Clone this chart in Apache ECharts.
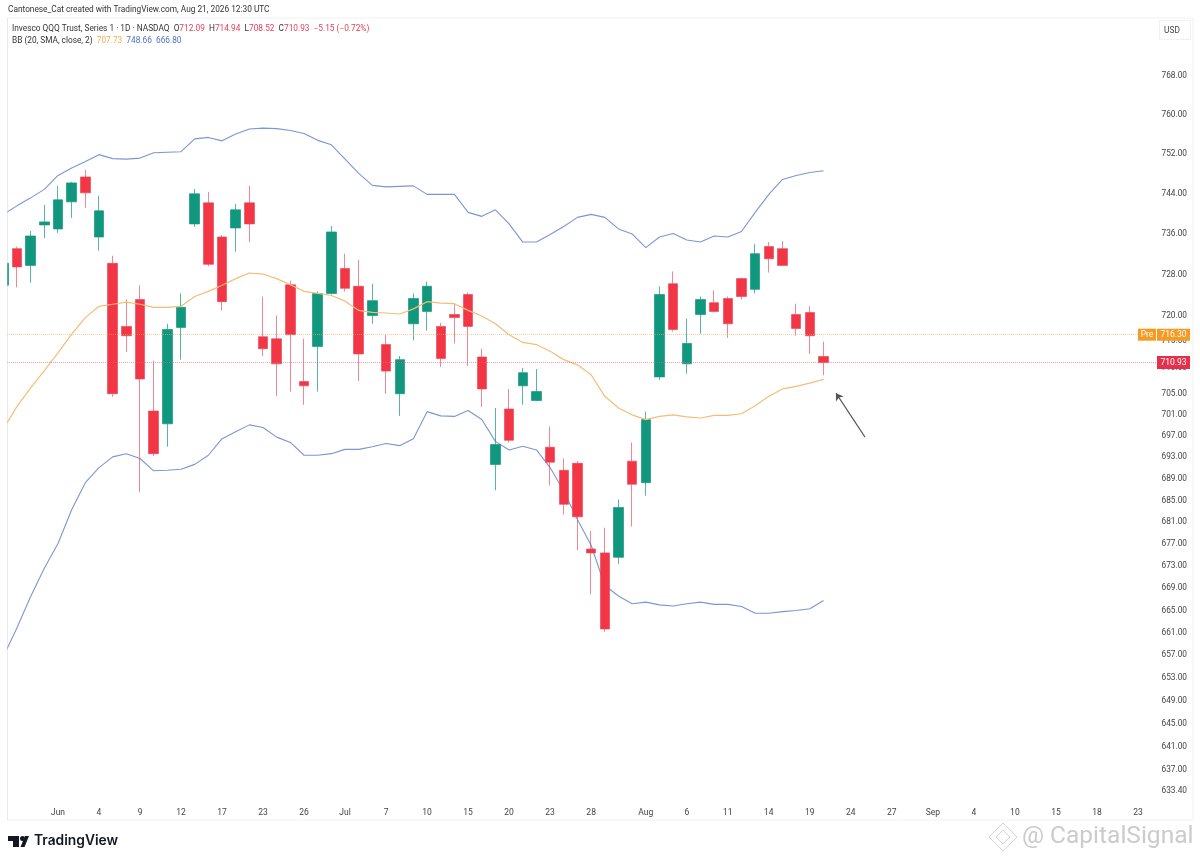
<!DOCTYPE html>
<html><head><meta charset="utf-8">
<style>html,body{margin:0;padding:0;background:#fff}#c{width:1200px;height:862px}</style>
<script src="https://cdn.jsdelivr.net/npm/echarts@6/dist/echarts.min.js"></script>
</head><body><div id="c"></div>
<script>
// session calendar (trading days, including future sessions on the axis)
const mayDays=[26,27,28,29];
const junDays=[1,2,3,4,5,8,9,10,11,12,15,16,17,18,22,23,24,25,26,29,30];
const julDays=[1,2,6,7,8,9,10,13,14,15,16,17,20,21,22,23,24,27,28,29,30,31];
const augDays=[3,4,5,6,7,10,11,12,13,14,17,18,19,20,21,24,25,26,27,28,31];
const sepDays=[1,2,3,4,8,9,10,11,14,15,16,17,18,21,22,23,24,25];
const tickDates=['06-01','06-04','06-09','06-12','06-17','06-23','06-26','07-01','07-07','07-10','07-15','07-20','07-23','07-28','08-03','08-06','08-11','08-14','08-19','08-24','08-27','09-01','09-04','09-10','09-15','09-18','09-23'];
const tickLabels=['Jun','4','9','12','17','23','26','Jul','7','10','15','20','23','28','Aug','6','11','14','19','24','27','Sep','4','10','15','18','23'];
const priceTicks=[768,760,752,744,736,728,720,715,710,705,701,697,693,689,685,681,677,673,669,665,661,657,653,649,645,641,637,633.4];
// [open, close, low, high]
const ohlc=[
[725.9,730.2,725.5,730.6],[733.1,729.5,725.5,733.5],[729.8,735.6,726.4,736.6],[737.8,738.4,735.2,741.8],
[737.0,742.8,736.2,745.6],[742.4,746.2,739.2,746.4],[747.4,744.2,741.2,748.8],[735.4,740.6,732.7,743.6],
[730.2,705.0,704.4,731.7],[717.9,716.1,713.0,723.1],[723.1,707.8,686.5,725.9],[701.7,693.7,693.2,711.3],
[699.3,717.3,695.0,718.4],[717.7,721.6,711.5,724.3],[738.0,744.0,737.4,745.0],[742.2,730.0,729.6,744.4],
[735.4,722.7,721.0,735.8],[737.2,740.8,732.5,742.0],[742.2,738.0,734.4,745.6],[715.9,713.6,712.2,723.7],
[715.5,710.7,704.6,720.0],[726.0,716.3,705.4,726.8],[707.3,706.5,702.9,715.5],[714.0,724.3,705.4,724.7],
[724.3,736.4,724.1,737.6],[729.2,725.3,724.7,732.1],[725.7,712.6,707.4,730.9],[720.0,722.9,718.4,726.2],
[714.4,709.3,705.0,716.3],[705.0,711.5,700.8,712.2],[718.4,723.3,715.2,724.3],[720.8,725.7,717.1,726.6],
[717.9,711.7,710.1,718.6],[720.2,719.6,714.6,722.3],[724.1,717.9,710.3,724.5],[712.0,705.9,702.5,713.6],
[691.7,695.4,686.9,702.3],[702.1,696.2,695.8,705.9],[706.5,709.0,702.9,709.9],[703.7,705.4,703.6,709.7],
[694.9,692.1,687.8,698.8],[690.6,684.3,682.4,692.8],[691.9,682.0,675.9,692.3],[676.1,675.4,667.9,679.4],
[675.4,661.7,661.2,680.0],[674.6,683.7,673.4,685.2],[692.3,688.0,680.2,695.8],[688.3,700.1,685.9,701.6],
[708.2,724.1,707.6,725.7],[726.2,717.3,716.9,728.6],[710.7,714.6,708.8,719.4],[720.2,723.1,716.5,723.7],
[722.5,720.8,720.6,724.9],[723.3,718.4,715.7,723.7],[727.2,723.7,723.1,727.4],[725.1,732.1,724.3,734.0],
[733.5,731.1,728.4,734.4],[733.1,729.8,729.6,734.6],[720.2,717.5,716.1,722.3],[720.6,716.1,712.6,721.8],
[712.09,710.93,708.52,714.94]];
const bbUpper=[739.9,741.6,743.2,744.9,747.7,749.2,750.5,751.9,751.1,751.0,751.2,752.3,752.4,752.5,755.1,755.4,754.7,756.1,757.1,757.3,757.2,756.8,756.2,754.8,753.9,751.0,748.1,745.7,745.4,745.5,745.6,743.9,743.9,743.9,740.3,739.5,740.8,738.0,734.4,734.4,735.9,737.5,739.3,739.9,739.3,737.0,736.0,733.3,735.4,736.1,734.8,734.4,735.6,735.4,736.5,740.3,743.9,746.9,747.7,748.3,748.66];
const bbBasis=[698.3,702.6,706.1,709.4,712.8,716.4,719.6,721.8,722.2,722.6,722.2,721.6,721.6,721.8,723.7,724.7,725.9,727.2,728.3,728.1,727.2,726.0,724.7,724.3,723.9,722.8,721.0,720.6,720.5,720.3,721.3,722.7,722.4,722.3,721.0,719.9,718.4,716.3,714.8,714.4,713.1,711.5,710.5,708.6,704.5,702.3,701.0,700.1,700.7,701.0,700.6,700.4,700.9,700.9,701.2,702.7,704.5,705.9,706.4,707.0,707.73];
const bbLower=[656.8,661.9,667.5,672.6,677.1,683.3,688.3,691.1,693.1,693.7,692.8,690.5,690.6,690.8,691.7,693.4,696.5,697.8,699.1,698.6,696.8,695.8,693.4,693.4,693.7,694.5,694.5,695.0,695.6,695.2,696.5,701.6,700.8,700.7,701.8,700.1,696.0,694.4,695.1,694.4,691.1,686.7,681.5,676.8,669.5,667.6,666.2,666.5,666.0,665.8,666.2,666.5,666.1,666.1,665.7,664.5,664.5,664.8,665.0,665.3,666.80];
const prePrice=716.30, lastPrice=710.93;

const pad=d=>String(d).padStart(2,'0');
const dates=[[5,mayDays],[6,junDays],[7,julDays],[8,augDays],[9,sepDays]].flatMap(([m,ds])=>ds.map(d=>pad(m)+'-'+pad(d)));
const tickPos=tickDates.map(d=>dates.indexOf(d));
const withX=a=>a.map((v,i)=>[i,v]);
const RED='#f23645',GREEN='#12977f',BLUE='#7a97d3',ORANGE='#f4bd76',FONT='Roboto,"Noto Sans",sans-serif',TXT='8.3px '+FONT;
const LX=7,RX=1193,barStep=13.67,jun1Px=58,jun1=dates.indexOf('06-01');
const xAt=px=>jun1+(px-jun1Px)/barStep;

const chart=echarts.init(document.getElementById('c'),null,{renderer:'canvas'});
const poly=(pts,fill,stroke)=>({type:'polygon',silent:true,z:60,shape:{points:pts},style:{fill:fill||'none',stroke:stroke||null,lineWidth:1}});
const label=(x,y,text,extra)=>({type:'text',silent:true,z:60,style:Object.assign({x,y,text,verticalAlign:'middle',font:TXT,fill:'#333'},extra||{})});
chart.setOption({
 animation:false,backgroundColor:'#fff',
 grid:{left:LX,top:18,width:RX-LX,height:802,show:true,borderColor:'#f1f1f3',borderWidth:1,backgroundColor:'#fff'},
 xAxis:{type:'value',min:xAt(LX),max:xAt(RX),splitLine:{show:false},axisLine:{show:false},
  axisTick:{show:false},
  axisLabel:{customValues:tickPos,inside:true,margin:3,fontFamily:FONT,fontSize:8.5,color:'#444',showMinLabel:true,showMaxLabel:true,
   formatter:v=>tickLabels[tickPos.indexOf(v)]}},
 yAxis:{type:'log',min:628.5,max:780.1,position:'right',splitLine:{show:false},axisLine:{show:false},axisTick:{show:false},minorTick:{show:false},
  axisLabel:{customValues:priceTicks,inside:true,margin:6,fontFamily:FONT,fontSize:8.3,color:'#444',align:'right',padding:[4,0,0,0],
   formatter:v=>(+v).toFixed(2)}},
 series:[
  {type:'line',name:'upper',data:withX(bbUpper),showSymbol:false,symbol:'none',lineStyle:{color:BLUE,width:1.1},z:2},
  {type:'line',name:'lower',data:withX(bbLower),showSymbol:false,symbol:'none',lineStyle:{color:BLUE,width:1.1},z:2},
  {type:'candlestick',name:'QQQ',data:ohlc.map((r,i)=>[i,...r]),encode:{x:0,y:[1,2,3,4]},barWidth:10,z:3,
   itemStyle:{color:GREEN,color0:RED,borderColor:'rgba(18,151,127,.7)',borderColor0:'rgba(230,70,90,.65)',borderWidth:1}},
  {type:'line',name:'basis',data:withX(bbBasis),showSymbol:false,symbol:'none',lineStyle:{color:ORANGE,width:1.2},z:4,
   markLine:{silent:true,symbol:'none',animation:false,precision:2,data:[
    [{coord:[xAt(LX),prePrice],lineStyle:{color:'rgba(247,170,90,.6)',type:'dotted',width:1},
      label:{show:true,position:'end',distance:0,formatter:'{p|Pre}{s| }{v|716.30}',
       rich:{p:{backgroundColor:'#f59a23',color:'#fff',fontSize:8.5,fontFamily:FONT,width:18,height:12,align:'center'},
             s:{width:1,height:12,fontSize:1,backgroundColor:'#fff'},
             v:{backgroundColor:'#f59a23',color:'#fff',fontSize:8.5,fontFamily:FONT,width:33,height:12,align:'center'}}}},
     {coord:[xAt(1138),prePrice]}],
    [{coord:[xAt(LX),lastPrice],lineStyle:{color:'rgba(232,100,120,.6)',type:'dotted',width:1},
      label:{show:true,position:'end',distance:0,formatter:'{v|710.93}',
       rich:{v:{backgroundColor:'#e4304a',color:'#fff',fontSize:8.5,fontFamily:FONT,width:33,height:13,align:'center'}}}},
     {coord:[xAt(1157),lastPrice]}],
    [{coord:[xAt(865),696.8],lineStyle:{color:'#50545c',type:'solid',width:1.1},symbol:'none',symbolSize:0,label:{show:false}},
     {coord:[xAt(836),705.1],symbol:'arrow',symbolSize:7}]
   ]}}
 ],
 graphic:[
  {type:'rect',silent:true,z:50,shape:{x:0,y:0,width:7,height:862},style:{fill:'#fff'}},
  {type:'rect',silent:true,z:51,shape:{x:7,y:18,width:1,height:802},style:{fill:'rgba(210,210,216,.35)'}},
  label(8,10,'Cantonese_Cat created with TradingView.com, Aug 21, 2026 12:30 UTC'),
  label(12,29,'Invesco QQQ Trust, Series 1 · 1D · NASDAQ  O{r|712.09}  H{r|714.94}  L{r|708.52}  C{r|710.93}  {r|−5.15 (−0.72%)}',
    {rich:{r:{fill:'#e4405a',font:TXT}}}),
  label(12,41,'BB (20, SMA, close, 2)  {o|707.73}  {b|748.66}  {b|666.80}',
    {rich:{o:{fill:'#eeb04f',font:TXT},b:{fill:'#4f74c4',font:TXT}}}),
  {type:'rect',silent:true,z:59,shape:{x:1159.5,y:20.5,width:31,height:19},style:{fill:'#fff',stroke:'#f1f1f3'}},
  label(1172,30.5,'USD',{align:'center',fill:'#444'}),
  // TradingView footer
  poly([[8,836],[19,836],[19,847],[13,847],[13,841],[8,841]],'#131722'),
  {type:'circle',silent:true,z:60,shape:{cx:22.5,cy:838.5,r:2.5},style:{fill:'#131722'}},
  poly([[20.5,847],[25,836],[29,836],[24.5,847]],'#131722'),
  label(34,841,'TradingView',{font:'600 13.8px Inter,Lato,sans-serif',fill:'#131722'}),
  // Watermark
  poly([[1003,823],[1017,837],[1003,851],[989,837]],null,'#d4d4d4'),
  poly([[1003,830],[1010,837],[1003,844],[996,837]],null,'#d4d4d4'),
  label(1022,837,'@ CapitalSignal',{font:'24.5px Roboto,sans-serif',fill:'#cbcbcb'})
 ]
});
</script></body></html>
